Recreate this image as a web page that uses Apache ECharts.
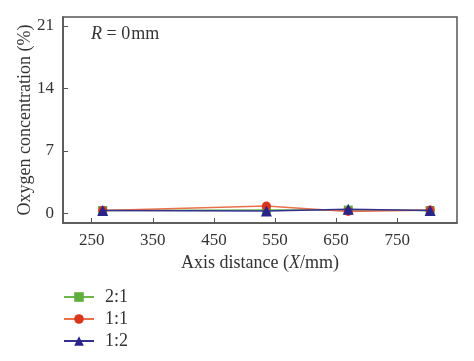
<!DOCTYPE html>
<html>
<head>
<meta charset="utf-8">
<script src="https://cdn.jsdelivr.net/npm/echarts@6/dist/echarts.min.js"></script>
<style>html,body{margin:0;padding:0;background:#fff;}#c{width:474px;height:361px;}</style>
</head>
<body>
<div id="c"></div>
<script>
const xPositions = [268, 536, 670, 804];
const seriesNames = ['2:1', '1:1', '1:2'];
const ratio21 = [0.3, 0.35, 0.35, 0.3];
const ratio11 = [0.3, 0.8, 0.2, 0.35];
const ratio12 = [0.3, 0.25, 0.45, 0.3];
const xTicks = [250, 350, 450, 550, 650, 750];
const yTicks = [0, 7, 14, 21];

const font = 'Liberation Serif';
const colors = ['#6cb64c', '#e8704a', '#35308e'];
const markerColors = ['#5fae3e', '#d9361e', '#2a238a'];
const symbols = ['rect', 'circle', 'triangle'];
const values = [ratio21, ratio11, ratio12];

const chart = echarts.init(document.getElementById('c'), null, {renderer: 'canvas'});
chart.setOption({
  animation: false,
  backgroundColor: '#fff',
  grid: {left: 63, right: 17, top: 17, bottom: 138, show: true, borderColor: '#555', borderWidth: 1.5,
         backgroundColor: 'transparent', containLabel: false, outerBoundsMode: 'none'},
  legend: {
    orient: 'vertical', left: 63, top: 288, height: 75, itemWidth: 30, itemHeight: 12, itemGap: 4,
    padding: 0,
    textStyle: {fontFamily: font, fontSize: 18, color: '#333', padding: [0, 0, 0, 6]},
    data: seriesNames.map((n) => ({name: n}))
  },
  graphic: [{
    type: 'text', left: 91, top: 25,
    style: {
      text: '{i|R} = 0{s| }mm',
      fontFamily: font, fontSize: 18, fill: '#333',
      rich: {i: {fontStyle: 'italic', fontFamily: font, fontSize: 18}, s: {fontSize: 4}}
    }
  }],
  xAxis: {
    type: 'value', min: 203, max: 848,
    name: 'Axis distance ({i|X}/mm)', nameLocation: 'middle', nameGap: 31, nameMoveOverlap: false,
    nameTextStyle: {fontFamily: font, fontSize: 18, color: '#333', rich: {i: {fontStyle: 'italic', fontFamily: font, fontSize: 18, color: '#333'}}},
    axisLine: {show: true, onZero: false, lineStyle: {color: '#555', width: 1.5}},
    axisTick: {show: true, inside: true, length: 5, customValues: xTicks, lineStyle: {color: '#555'}},
    axisLabel: {customValues: xTicks, fontFamily: font, fontSize: 17, color: '#333', margin: 9},
    splitLine: {show: false}
  },
  yAxis: {
    type: 'value', min: -1.1, max: 22,
    name: 'Oxygen concentration (%)', nameLocation: 'middle', nameGap: 29, nameMoveOverlap: false,
    nameTextStyle: {fontFamily: font, fontSize: 18, color: '#333'},
    axisLine: {show: true, lineStyle: {color: '#555', width: 1.5}},
    axisTick: {show: true, inside: true, length: 5, customValues: yTicks, lineStyle: {color: '#555'}},
    axisLabel: {customValues: yTicks, fontFamily: font, fontSize: 17, color: '#333', margin: 9},
    splitLine: {show: false}
  },
  series: seriesNames.map((n, i) => ({
    name: n, type: 'line', smooth: false,
    symbol: symbols[i], symbolSize: symbols[i] === 'triangle' ? 11 : 9,
    lineStyle: {color: colors[i], width: 1.5},
    itemStyle: {color: markerColors[i]},
    data: xPositions.map((x, j) => [x, values[i][j]]),
    z: 2 + i
  }))
});
</script>
</body>
</html>
